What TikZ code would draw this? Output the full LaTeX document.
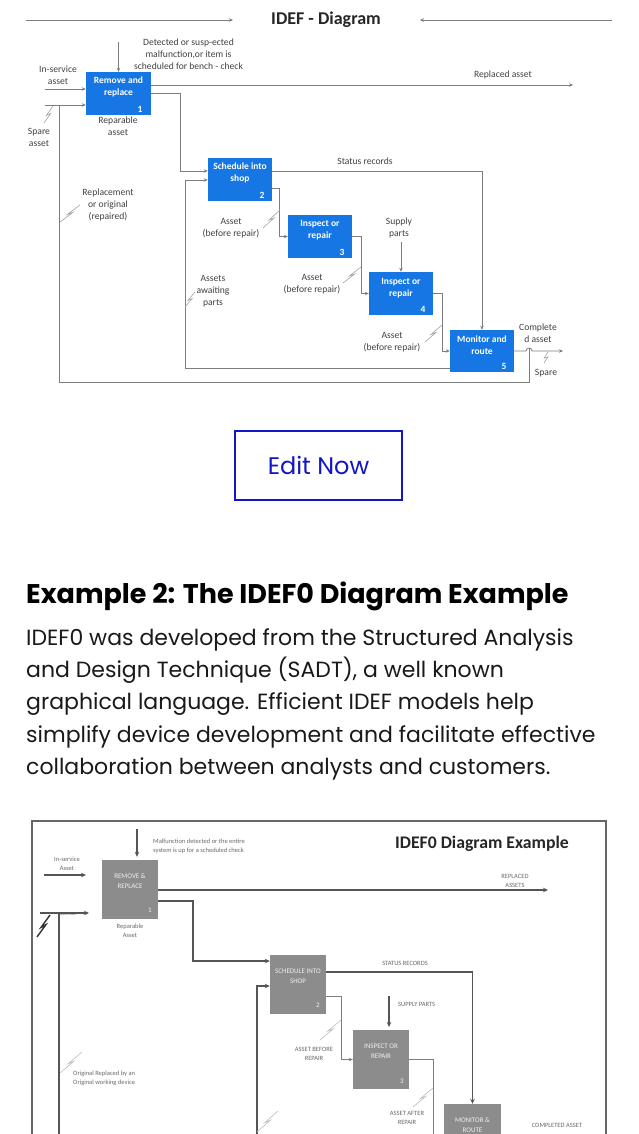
\documentclass[tikz,border=0pt]{standalone}
\usepackage{fontspec}
\setmainfont{Poppins}
\newfontfamily\carl{Carlito}
\usetikzlibrary{arrows.meta,calc}
\definecolor{ibblue}{RGB}{22,119,228}
\definecolor{tln}{RGB}{125,125,125}
\definecolor{ttxt}{RGB}{65,65,65}
\definecolor{gbox}{RGB}{140,140,140}
\definecolor{gln}{RGB}{85,85,85}
\definecolor{gtxt}{RGB}{105,105,105}
\definecolor{btnblue}{RGB}{20,20,200}
\newcommand\idefsq[3][]{\draw[#1] (#2) -- ($(#2)!0.56!(#3)+(1.6,0)$) -- ($(#2)!0.44!(#3)+(-1.6,0)$) -- (#3);}
\begin{document}
\begin{tikzpicture}[x=1pt,y=-1pt,
  tl/.style={draw=tln, line width=0.8pt},
  tarr/.style={tl, -{Stealth[length=4pt,width=3.5pt]}},
  tsq/.style={draw=tln!70, line width=0.6pt},
  tbox/.style={fill=ibblue, draw=none, minimum width=64pt, minimum height=43pt, inner sep=0pt},
  tbt/.style={text=white, font=\carl\bfseries\fontsize{9.5}{12}\selectfont, align=center, inner sep=0pt},
  tlab/.style={text=ttxt, font=\carl\fontsize{9.6}{12}\selectfont, align=center, inner sep=0pt},
  gl/.style={draw=gln, line width=1.5pt},
  garr/.style={gl, -{Stealth[length=5pt,width=4.5pt]}},
  glt/.style={draw=tln, line width=0.7pt},
  gltarr/.style={glt, -{Stealth[length=4pt,width=3.5pt]}},
  gsq/.style={draw=tln!50, line width=0.6pt},
  gbx/.style={fill=gbox, draw=none, minimum width=56pt, minimum height=59pt, inner sep=0pt},
  gbt/.style={text=white!88!gray, font=\carl\fontsize{7}{10}\selectfont, align=center, inner sep=0pt},
  glab/.style={text=gtxt, font=\carl\fontsize{6.5}{9}\selectfont, align=center, inner sep=0pt},
  para/.style={anchor=base west, inner sep=0pt, font=\fontsize{22}{26}\selectfont, text=black!90}
]
\useasboundingbox (0,0) rectangle (638,1134);
\clip (0,0) rectangle (638,1134);
\fill[white] (0,0) rectangle (638,1134);

% ================= TOP DIAGRAM =================
\node[font=\carl\bfseries\fontsize{18}{20}\selectfont, text=black!85, inner sep=0pt] (title1) at (326,20) {IDEF - Diagram};
\coordinate (tl0) at (26,20); \coordinate (tl1) at (233,20);
\coordinate (tr0) at (612,20); \coordinate (tr1) at (420,20);
\draw[tarr] (tl0) -- (tl1);
\draw[tarr] (tr0) -- (tr1);

\node[tbox, minimum width=65pt] (b1) at (118.5,93.5) {};
\node[tbt] (b1t) at (118.5,87) {Remove and\\replace};
\node[tbt] (b1n) at (140,109) {1};
\node[tbox] (b2) at (240,179.5) {};
\node[tbt] (b2t) at (240,173) {Schedule into\\shop};
\node[tbt] (b2n) at (262,195) {2};
\node[tbox] (b3) at (320,236.5) {};
\node[tbt] (b3t) at (320,230.5) {Inspect or\\repair};
\node[tbt] (b3n) at (342,252) {3};
\node[tbox] (b4) at (401,293.5) {};
\node[tbt] (b4t) at (401,288) {Inspect or\\repair};
\node[tbt] (b4n) at (423,309) {4};
\node[tbox, minimum height=42pt] (b5) at (482,351) {};
\node[tbt] (b5t) at (482,345) {Monitor and\\route};
\node[tbt] (b5n) at (504,366) {5};

% labels
\node[tlab] (lctl) at (188.5,54.5) {Detected or susp-ected\\malfunction,or item is\\scheduled for bench - check};
\node[tlab] (lin) at (58,75) {In-service\\asset};
\node[tlab] (lsp) at (39,137) {Spare\\asset};
\node[tlab] (lrep) at (118,126) {Reparable\\asset};
\node[tlab] (lrpd) at (503,75) {Replaced asset};
\node[tlab] (lrpl) at (108,205) {Replacement\\or original\\(repaired)};
\node[tlab] (lst) at (365,161) {Status records};
\node[tlab] (la1) at (231,228) {Asset\\(before repair)};
\node[tlab] (law) at (213,291) {Assets\\awaiting\\parts};
\node[tlab] (la2) at (312,284) {Asset\\(before repair)};
\node[tlab] (lsu) at (399,228) {Supply\\parts};
\node[tlab] (la3) at (392,342) {Asset\\(before repair)};
\node[tlab] (lco) at (538,333) {Complete\\d asset};
\node[tlab] (lspr) at (546,373) {Spare};

% connectors
\coordinate (c1) at (118.5,42);
\draw[tarr] (c1) -- (b1.north);
\coordinate (in1) at (45,89);
\draw[tarr] (in1) -- (in1 -| b1.west);
\coordinate (sp1) at (45,105);
\draw[tarr] (sp1) -- (sp1 -| b1.west);
\coordinate (rep) at (573,85);
\draw[tarr] (b1.east |- rep) -- (rep);
\draw[tarr] (b1.east) -- (180,93.5) |- ([yshift=8.5pt]b2.west);
\draw[tarr] ([yshift=-17pt]b5.west) -| (185,180) -- ([yshift=-0.5pt]b2.west);
\draw[tarr] ([yshift=8.5pt]b2.east) -| (b5.north);
\draw[tarr] ([yshift=-8.5pt]b2.east) -- (279,188) |- (b3.west);
\draw[tarr] (b3.east) -- (361,236.5) |- (b4.west);
\coordinate (sup) at (401,242);
\draw[tarr] (sup) -- (b4.north);
\draw[tarr] (b4.east) -- (442,293.5) |- (b5.west);
\coordinate (comp) at (563,351);
\draw[tarr] (b5.east) -- (526,351) arc[start angle=180,end angle=0,radius=3pt] -- (comp);
\draw[tl] (529,348) -- (529,382) -| (59,105);

% squiggles
\idefsq[tsq]{44,123}{53,106}
\idefsq[tsq]{60,222}{80,205}
\idefsq[tsq]{263,228}{280,210}
\idefsq[tsq]{343,283}{361,267}
\idefsq[tsq]{425,342}{442,325}
\idefsq[tsq]{185,307}{195,292}
\idefsq[tsq]{544,363}{548,352}

% ================= PAGE TEXT =================
\node[draw=btnblue, line width=2pt, minimum width=167pt, minimum height=69pt, text=btnblue, font=\fontsize{24}{28}\selectfont] (btn) at (318.5,465.5) {Edit Now};

\node[anchor=base west, inner sep=0pt, font=\bfseries\fontsize{27}{32}\selectfont, text=black] (h2) at (26,603) {Example 2: The IDEF0 Diagram Example};
\node[para] (p1) at (26,645) {IDEF0 was developed from the Structured Analysis};
\node[para] (p2) at (26,677) {and Design Technique (SADT), a well known};
\node[para] (p3) at (26,709) {graphical language. Efficient IDEF models help};
\node[para] (p4) at (26,742) {simplify device development and facilitate effective};
\node[para] (p5) at (26,774) {collaboration between analysts and customers.};

% ================= BOTTOM DIAGRAM =================
\draw[gl, draw=gln!90] (32,1140) -- (32,821) -- (606,821) -- (606,1140);
\node[font=\carl\bfseries\fontsize{17.7}{20}\selectfont, text=black!85, inner sep=0pt] (title2) at (482,844) {IDEF0 Diagram Example};

\node[gbx] (B1) at (130,889.5) {};
\node[gbt] (B1t) at (130,881) {REMOVE \&\\REPLACE};
\node[gbt] (B1n) at (150,910) {1};
\node[gbx] (B2) at (298,984.5) {};
\node[gbt] (B2t) at (298,976) {SCHEDULE INTO\\SHOP};
\node[gbt] (B2n) at (318,1005) {2};
\node[gbx] (B3) at (381,1059.5) {};
\node[gbt] (B3t) at (381,1051) {INSPECT OR\\REPAIR};
\node[gbt] (B3n) at (402,1081) {3};
\node[gbx, minimum width=57pt] (B4) at (472.5,1133.5) {};
\node[gbt] (B4t) at (472.5,1125) {MONITOR \&\\ROUTE};

\node[glab, align=left, anchor=west] (gctl) at (153,846.5) {Malfunction detected or the entire\\system is up for a scheduled check};
\node[glab] (gin) at (67,863.5) {In-service\\Asset};
\node[glab, font=\carl\fontsize{3.5}{4}\selectfont] (gsp) at (68,915) {Spare Asset};
\node[glab] (grep) at (130,930.5) {Reparable\\Asset};
\node[glab] (grpd) at (515,880.5) {REPLACED\\ASSETS};
\node[glab] (gst) at (405,963) {STATUS RECORDS};
\node[glab, anchor=west] (gsu) at (398,1004) {SUPPLY PARTS};
\node[glab] (gab) at (314,1053.5) {ASSET BEFORE\\REPAIR};
\node[glab] (gaa) at (407,1117.5) {ASSET AFTER\\REPAIR};
\node[glab] (gco) at (557,1125) {COMPLETED ASSET};
\node[glab, align=left, anchor=west] (gor) at (73,1078.5) {Original Replaced by an\\Original working device};

\coordinate (gc) at (137,829);
\draw[garr] (gc) -- ($(gc |- B1.north)+(0,-3)$);
\coordinate (gin0) at (44,875); \coordinate (gin1) at (86,875);
\draw[garr] (gin0) -- (gin1);
\coordinate (gsp0) at (40,913); \coordinate (gsp1) at (89,913);
\draw[garr] (gsp0) -- (gsp1);
\draw[gl] (59,913) -- (59,1140);
\coordinate (grp) at (548,890);
\draw[garr] (B1.east |- grp) -- (grp);
\draw[garr] (158,901) -- (193,901) |- (B2.west |- 0,961);
\draw[garr] (257,1140) |- (B2.west |- 0,986);
\draw[garr] (B2.east |- 0,972) -| (B4.north);
\coordinate (gsup0) at (389,996); \coordinate (gsup1) at (389,1027);
\draw[garr] (gsup0) -- (gsup1);
\draw[gltarr] (B2.east |- 0,996) -- (341,996) |- (B3.west);
\draw[glt] (B3.east) -- (433,1059.5) -- (433,1140);

\idefsq[draw=black!80, line width=1.4pt]{37,937}{50,915}
\idefsq[gsq]{60,1073}{82,1052}
\idefsq[gsq]{257,1132}{278,1111}
\idefsq[gsq]{320,1040}{341,1020}
\idefsq[gsq]{413,1107}{433,1088}
\end{tikzpicture}
\end{document}
